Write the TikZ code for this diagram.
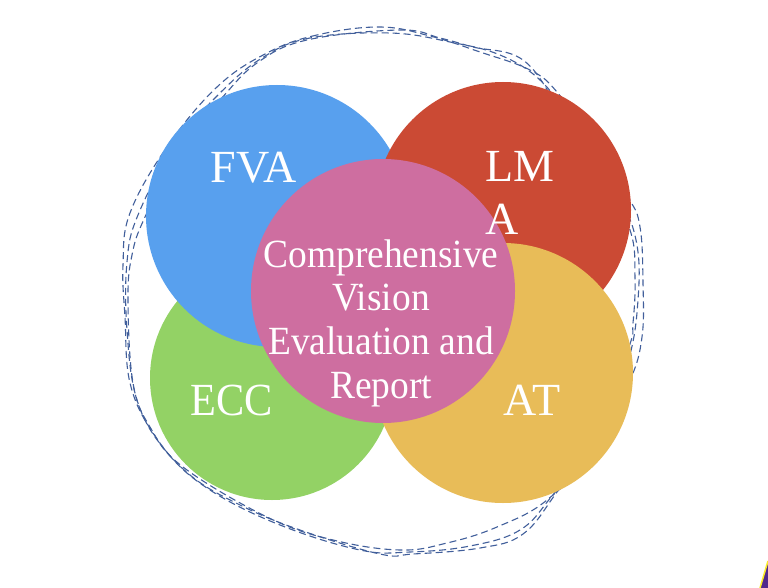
\documentclass[tikz,border=0pt]{standalone}
\usepackage{fontspec}
\setmainfont{Liberation Serif}
\definecolor{cblue}{RGB}{88,160,238}
\definecolor{cred}{RGB}{203,74,52}
\definecolor{cgreen}{RGB}{147,210,101}
\definecolor{cyellow}{RGB}{232,188,88}
\definecolor{cpink}{RGB}{206,110,160}
\definecolor{dashblue}{RGB}{65,95,155}
\definecolor{cornerpurple}{RGB}{80,40,140}
\definecolor{corneryellow}{RGB}{250,235,40}
\begin{document}
\begin{tikzpicture}[x=1pt,y=-1pt,
  disc/.style={circle, inner sep=0pt, minimum size=#1},
  ring/.style={draw=dashblue, line width=1.1pt, dash pattern=on 7pt off 4pt},
  lbl/.style={text=white, inner sep=0pt, font=\fontsize{46}{53}\selectfont}]
\useasboundingbox (0,0) rectangle (768,588);
\fill[white] (0,0) rectangle (768,588);
% dashed outlines (behind the discs)
\draw[ring] plot[smooth cycle, tension=0.65] coordinates {
 (380,27) (317,35) (267,53) (217,87) (167,147) (130,213) (123,265) (125,317)
 (130,383) (153,433) (190,475) (240,505) (300,530) (380,554) (413,554) (480,548)
 (523,534) (557,492) (600,430) (630,380) (642,337) (643,283) (640,227) (628,197)
 (590,140) (557,92) (530,70) (480,52) (430,36)};
\draw[ring] plot[smooth cycle, tension=0.65] coordinates {
 (400,30) (307,40) (257,63) (220,100) (183,143) (145,217) (132,255) (128,300)
 (133,383) (150,427) (183,467) (267,517) (333,540) (400,550) (447,543) (497,527)
 (547,500) (590,450) (628,350) (633,323) (635,277) (630,230) (600,170) (560,110)
 (523,60) (473,47) (440,38)};
\draw[ring] plot[smooth cycle, tension=0.65] coordinates {
 (390,33) (310,38) (262,58) (218,95) (175,145) (138,215) (127,262) (127,330)
 (137,400) (165,450) (210,490) (280,525) (360,550) (410,552) (470,546) (520,530)
 (552,496) (595,440) (627,365) (638,300) (636,240) (615,190) (570,120) (540,80)
 (500,55) (450,42)};
% discs
\node[disc=244pt, fill=cgreen] (ecc) at (272,378) {};
\node[disc=262pt, fill=cblue] (fva) at (277,216) {};
\node[disc=256pt, fill=cred] (lma) at (503,210) {};
\node[disc=260pt, fill=cyellow] (at) at (503,373) {};
\node[disc=264pt, fill=cpink] (cver) at (383,291) {};
% labels
\node[lbl, anchor=base] (fvat) at (254,183) {FVA};
\node[lbl, anchor=base west] (lmat) at (485,182) {\begin{tabular}[t]{@{}l@{}}LM\\A\end{tabular}};
\node[lbl, anchor=base] (ecct) at (232,415) {\scalebox{0.92}[1]{ECC}};
\node[lbl, anchor=base] (att) at (532,415) {AT};
\node[text=white, inner sep=0pt, anchor=base] (cvert) at (381,267)
 {\scalebox{0.936}[1]{\fontsize{40}{43.7}\selectfont\begin{tabular}[t]{@{}c@{}}Comprehensive\\Vision\\Evaluation and\\Report\end{tabular}}};
% corner fragment
\fill[cornerpurple] (760,588) -- (768,561) -- (768,588) -- cycle;
\draw[corneryellow, line width=1.5pt] (760,588) -- (768,561);
\end{tikzpicture}
\end{document}
